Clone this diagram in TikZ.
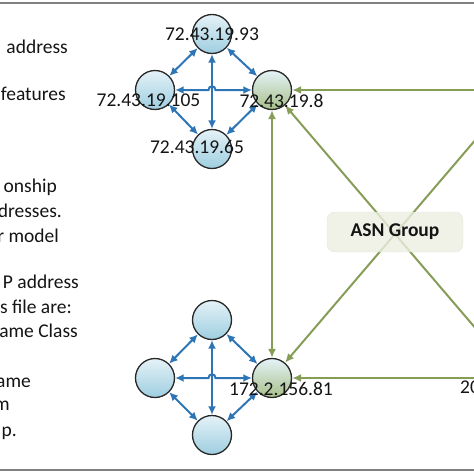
\documentclass[tikz,border=0pt]{standalone}
\usepackage{fontspec}
\setmainfont{Carlito}
\usetikzlibrary{arrows.meta}
\definecolor{bluearr}{RGB}{46,117,182}
\definecolor{greenarr}{RGB}{134,157,88}
\definecolor{circtop}{RGB}{228,242,247}
\definecolor{circbot}{RGB}{158,206,224}
\definecolor{greenbot}{RGB}{168,192,138}
\definecolor{circline}{RGB}{40,40,40}
\definecolor{asnfill}{RGB}{236,239,226}
\definecolor{framegray}{RGB}{128,128,128}
\definecolor{txt}{RGB}{20,20,20}
\begin{document}
\begin{tikzpicture}[x=1pt,y=-1pt,
  ipnode/.style={circle, draw=circline, line width=1.3pt, minimum size=39pt, inner sep=0pt, top color=circtop, bottom color=circbot},
  gipnode/.style={ipnode, top color=circtop, bottom color=greenbot},
  iplabel/.style={font=\fontsize{19.5}{22}\selectfont, text=txt, inner sep=0pt, anchor=base},
  sidetext/.style={font=\fontsize{19.5}{22}\selectfont, text=txt, inner sep=0pt, anchor=base east},
  barrow/.style={draw=bluearr, line width=2pt, {Latex[length=8.5pt,width=8pt]}-{Latex[length=8.5pt,width=8pt]}},
  garrow/.style={draw=greenarr, line width=2pt, -{Latex[length=9pt,width=8pt]}},
  gdarrow/.style={draw=greenarr, line width=2pt, {Latex[length=9pt,width=8pt]}-{Latex[length=9pt,width=8pt]}},
  asnbox/.style={rounded corners=8pt, fill=asnfill, fill opacity=0.8, text opacity=1, draw=asnfill!85!black, draw opacity=0.4, minimum width=136pt, minimum height=40pt, font=\bfseries\fontsize{19.5}{22}\selectfont, text=txt},
  framerule/.style={draw=framegray, line width=2.5pt}
]
\useasboundingbox (0,0) rectangle (474,474);
\clip (0,0) rectangle (474,474);

% frame rules
\coordinate (ftl) at (0,3); \coordinate (ftr) at (474,3);
\coordinate (fbl) at (0,470); \coordinate (fbr) at (474,470);
\draw[framerule] (ftl) -- (ftr);
\draw[framerule] (fbl) -- (fbr);

% side text (cropped paragraph)
\node[sidetext] (s1) at (68,53) {address};
\node[sidetext] (s2) at (66,100) {features};
\node[sidetext] (s3) at (57,192) {onship};
\node[sidetext] (s4) at (62,217) {dresses.};
\node[sidetext] (s5) at (59,242) {r model};
\node[sidetext] (s6) at (79,288) {P address};
\node[sidetext] (s7) at (72,313) {s file are:};
\node[sidetext] (s8) at (78,337) {ame Class};
\node[sidetext] (s9) at (31,387) {ame};
\node[sidetext] (s10) at (10,410) {m};
\node[sidetext] (s11) at (17,436) {p.};

% circles
\node[ipnode] (t1) at (212,34) {};
\node[ipnode] (l1) at (155,90) {};
\node[gipnode] (r1) at (272,90) {};
\node[ipnode] (b1) at (212,149) {};
\node[ipnode] (t2) at (212,320) {};
\node[ipnode] (l2) at (155,378) {};
\node[gipnode] (r2) at (272,378) {};
\node[ipnode] (b2) at (212,435) {};
\node[gipnode] (xr1) at (518,90) {};
\node[gipnode] (xr2) at (518,378) {};

% blue cluster arrows (top)
\draw[barrow] (t1) -- (l1);
\draw[barrow] (t1) -- (r1);
\draw[barrow] (l1) -- (b1);
\draw[barrow] (b1) -- (r1);
\draw[barrow] (t1) -- (b1);
\coordinate (h1a) at (208.5,90); \coordinate (h1b) at (215.5,90);
\draw[barrow] (l1) -- (h1a) .. controls (208.5,85) and (215.5,85) .. (h1b) -- (r1);

% blue cluster arrows (bottom)
\draw[barrow] (t2) -- (l2);
\draw[barrow] (t2) -- (r2);
\draw[barrow] (l2) -- (b2);
\draw[barrow] (b2) -- (r2);
\draw[barrow] (t2) -- (b2);
\coordinate (h2a) at (208.5,378); \coordinate (h2b) at (215.5,378);
\draw[barrow] (l2) -- (h2a) .. controls (208.5,373) and (215.5,373) .. (h2b) -- (r2);

% green connectors
\draw[garrow] (xr1) -- (r1);
\draw[garrow] (xr2) -- (r2);
\draw[gdarrow] (r2) -- (r1);
\draw[garrow] (xr2) -- (r1);
\draw[garrow] (xr1) -- (r2);

% ASN group box
\node[asnbox] (asn) at (395,232) {ASN Group};

% labels
\node[iplabel] (lt1) at (212,40) {72.43.19.93};
\node[iplabel] (ll1) at (148.5,106) {72.43.19.105};
\node[iplabel] (lr1) at (281.5,107) {72.43.19.8};
\node[iplabel] (lb1) at (197,153) {72.43.19.65};
\node[iplabel] (lr2) at (281,395) {172.2.156.81};
\node[iplabel, anchor=base west] (lxr2) at (460,393) {20};
\end{tikzpicture}
\end{document}
